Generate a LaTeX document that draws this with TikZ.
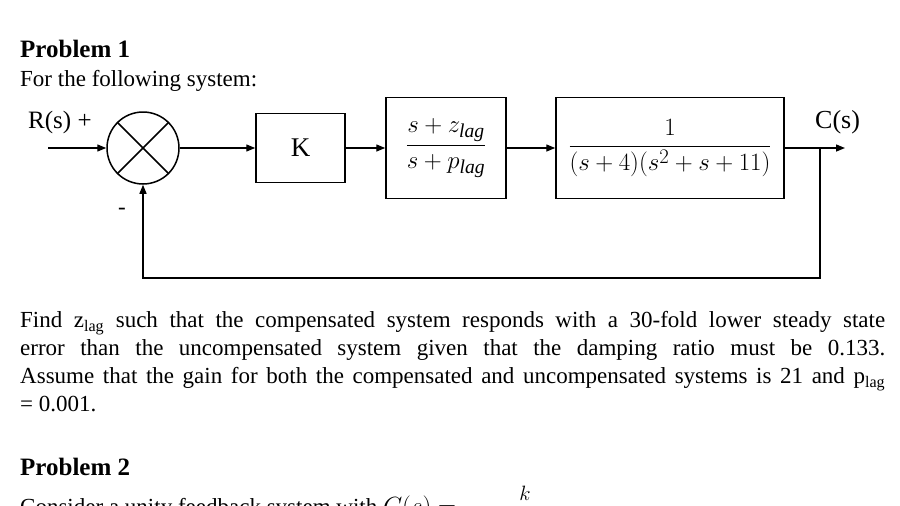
\documentclass[tikz,border=0pt]{standalone}
\usepackage{amsmath}
\usepackage{fontspec}
\setmainfont{Liberation Serif}
\usetikzlibrary{arrows.meta}
\begin{document}
\begin{tikzpicture}[x=1pt,y=-1pt,
  blk/.style={draw,line width=1.5pt,inner sep=0pt},
  sig/.style={line width=1.4pt,-{Triangle[length=9pt,width=7pt]}},
  txt/.style={font=\fontsize{23}{28}\selectfont,inner sep=0pt}]
\useasboundingbox (0,0) rectangle (900,506);
\clip (0,0) rectangle (900,506);
\node[anchor=base west,inner sep=0pt,font=\fontsize{25}{30}\selectfont\bfseries] (p1) at (20,57) {Problem 1};
\node[txt,anchor=base west] (intro) at (20,86) {For the following system:};
\node[txt,anchor=base west,font=\fontsize{25}{30}\selectfont] (rs) at (28,128) {R(s) +};
\coordinate (in) at (48,148);
\node[draw,circle,line width=1.5pt,minimum size=72pt,inner sep=0pt] (sum) at (143,148) {};
\draw[line width=1.5pt] (sum.45)--(sum.225) (sum.135)--(sum.315);
\node[blk,minimum width=89pt,minimum height=69pt,font=\fontsize{27}{30}\selectfont] (K) at (300.5,148) {K};
\node[blk,minimum width=120pt,minimum height=101pt,font=\fontsize{28}{32}\selectfont] (lag) at (446,148) {$\dfrac{s+z_{\mathit{lag}}}{s+p_{\mathit{lag}}}$};
\node[blk,minimum width=228pt,minimum height=101pt,font=\fontsize{28}{32}\selectfont] (G) at (670,148) {$\dfrac{1}{(s+4)(s^2+s+11)}$};
\coordinate (out) at (845,148);
\coordinate (br) at (820,148);
\coordinate (fb1) at (820,278);
\coordinate (fb2) at (143,278);
\node[txt,anchor=base west,font=\fontsize{26}{30}\selectfont] (cs) at (815,128) {C(s)};
\node[txt,anchor=base] (minus) at (122,214) {-};
\draw[sig] (in) -- (sum.west);
\draw[sig] (sum.east) -- (K.west);
\draw[sig] (K.east) -- (lag.west);
\draw[sig] (lag.east) -- (G.west);
\draw[sig] (G.east) -- (out);
\draw[sig] (br) -- (fb1) -- (fb2) -- (sum.south);
\node[txt,anchor=north west,text width=865pt,align=justify,font=\fontsize{23}{28}\selectfont] (para) at (20,311)
{Find z\textsubscript{lag} such that the compensated system responds with a 30-fold lower steady state\linebreak
error than the uncompensated system given that the damping ratio must be 0.133.\linebreak
Assume that the gain for both the compensated and uncompensated systems is 21 and p\textsubscript{lag}\linebreak
= 0.001.};
\node[anchor=base west,inner sep=0pt,font=\fontsize{25}{30}\selectfont\bfseries] (p2) at (20,475) {Problem 2};
\node[txt,anchor=base west] (cons) at (20,514) {Consider a unity feedback system with $G(s)=$};
\node[txt,anchor=base,font=\fontsize{21}{24}\selectfont] (k) at (525,500) {$k$};
\end{tikzpicture}
\end{document}
